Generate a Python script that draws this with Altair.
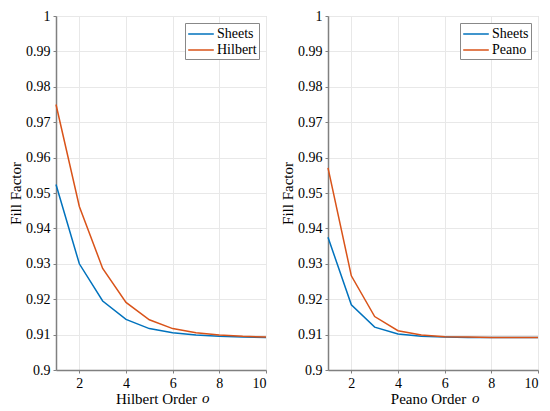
import altair as alt
import pandas as pd

orders = [1, 2, 3, 4, 5, 6, 7, 8, 9, 10]

sheets_hilbert = [0.9524, 0.9300, 0.9195, 0.9143, 0.9117, 0.9105, 0.9099, 0.9095, 0.9093, 0.9092]
hilbert = [0.9750, 0.9462, 0.9287, 0.9191, 0.9142, 0.9117, 0.9105, 0.9099, 0.9095, 0.9093]

sheets_peano = [0.9375, 0.9184, 0.9121, 0.9102, 0.9095, 0.9093, 0.9092, 0.9092, 0.9092, 0.9092]
peano = [0.9571, 0.9266, 0.9151, 0.9111, 0.9099, 0.9094, 0.9093, 0.9092, 0.9092, 0.9092]

y_ticks = [0.9, 0.91, 0.92, 0.93, 0.94, 0.95, 0.96, 0.97, 0.98, 0.99, 1.0]
x_ticks = [2, 4, 6, 8, 10]

FONT = 'Liberation Serif'
W, H = 210, 354


def panel(curve, sheets, other):
    data = pd.DataFrame({
        'order': orders + orders,
        'fill': sheets + other,
        'series': ['Sheets'] * len(orders) + [curve] * len(orders),
    })
    lines = alt.Chart(data).mark_line(strokeWidth=1.5).encode(
        x=alt.X(
            'order:Q',
            title=f'{curve} Order',
            scale=alt.Scale(domain=[1, 10], nice=False),
            axis=alt.Axis(values=x_ticks, titleX=W / 2 - 5,
                          labelFont=FONT, labelFontSize=14, titleFont=FONT),
        ),
        y=alt.Y(
            'fill:Q',
            title='Fill Factor',
            scale=alt.Scale(domain=[0.9, 1.0], nice=False),
            axis=alt.Axis(values=y_ticks, format='~g',
                          labelFont=FONT, labelFontSize=14, titleFont=FONT),
        ),
        color=alt.Color(
            'series:N',
            sort=['Sheets', curve],
            scale=alt.Scale(domain=['Sheets', curve], range=['#0072BD', '#D95319']),
            legend=alt.Legend(
                title=None,
                orient='top-right',
                offset=7,
                fillColor='white',
                strokeColor='#888888',
                padding=2,
                rowPadding=0,
                symbolType='M-1.6,0H1.6',
                symbolSize=256,
                symbolOffset=5,
                symbolStrokeWidth=1.5,
                labelOffset=7,
                labelFont=FONT,
                labelFontSize=14,
                labelColor='black',
            ),
        ),
    )
    # italic "o" after the axis title (single row, so it is drawn once)
    title_width = 84 if curve == 'Hilbert' else 80
    var = alt.Chart(pd.DataFrame({'symbol': ['o']})).mark_text(
        font=FONT, fontSize=15, fontStyle='italic',
        align='left', baseline='top', color='black'
    ).encode(
        text='symbol:N',
        x=alt.value(W / 2 - 5 + title_width / 2 + 4),
        y=alt.value(H + 21),
    )
    return alt.layer(lines, var).properties(width=W, height=H)


chart = (
    alt.hconcat(
        panel('Hilbert', sheets_hilbert, hilbert),
        panel('Peano', sheets_peano, peano),
        spacing=10,
    )
    .resolve_scale(color='independent')
    .resolve_legend(color='independent')
    .properties(padding={'left': 0, 'top': 0, 'right': 0, 'bottom': 0})
    .configure(font=FONT)
    .configure_axis(
        labelColor='black',
        titleFontSize=15,
        titleFontWeight='normal',
        titleColor='black',
        domainColor='#808080',
        domainWidth=1.5,
        tickColor='#808080',
        tickSize=3,
        gridColor='#e8e8e8',
    )
    .configure_axisY(titlePadding=2, labelPadding=3)
    .configure_axisX(titlePadding=1, labelPadding=3)
    .configure_view(stroke='#cccccc')
)

chart.save('out.html', embed_options={'renderer': 'svg', 'actions': False})
